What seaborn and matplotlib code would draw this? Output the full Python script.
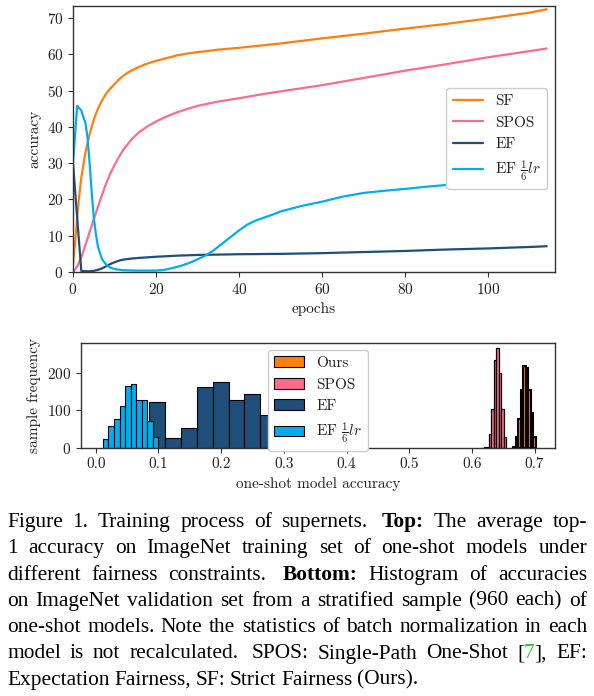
import re
import numpy as np
import matplotlib
matplotlib.use("Agg")
import matplotlib.pyplot as plt
from matplotlib.transforms import IdentityTransform
import seaborn as sns

# ---- top panel: average top-1 training accuracy per epoch ----
sf_epochs = [0, 0.5, 1, 1.5, 2, 3, 4, 5, 6, 7, 8, 9, 10, 11, 12, 13, 14, 16, 18, 20, 22, 25, 28, 30,
             35, 40, 45, 50, 60, 70, 80, 90, 100, 110, 114]
sf_acc = [2, 8, 15, 21, 26, 33, 38, 42, 45, 47.3, 49.2, 50.6, 51.8, 53, 54, 54.8, 55.5, 56.6, 57.5,
          58.2, 58.8, 59.7, 60.3, 60.6, 61.3, 61.8, 62.4, 63, 64.4, 65.7, 67.1, 68.4, 69.9, 71.5, 72.4]

spos_epochs = [0, 1, 2, 3, 4, 5, 6, 7, 8, 9, 10, 11, 12, 13, 14, 15, 16, 18, 20, 22, 25, 28, 30, 35,
               40, 45, 50, 60, 70, 80, 90, 100, 110, 114]
spos_acc = [0, 1.5, 4, 7.5, 11, 14.5, 18, 21.3, 24.5, 27.2, 29.5, 31.6, 33.5, 35, 36.4, 37.6, 38.6,
            40.2, 41.5, 42.6, 44, 45.1, 45.8, 47, 47.9, 48.9, 49.8, 51.5, 53.5, 55.5, 57.3, 59.2,
            60.9, 61.6]

ef_epochs = [0, 1, 2, 3, 4, 5, 6, 7, 8, 9, 10, 11, 12, 14, 16, 20, 25, 30, 40, 50, 60, 70, 80, 90,
             100, 110, 114]
ef_acc = [30, 15, 0.3, 0.2, 0.2, 0.3, 0.6, 1.0, 1.6, 2.2, 2.7, 3.1, 3.4, 3.7, 3.9, 4.2, 4.5, 4.7, 4.9,
          5.0, 5.2, 5.5, 5.8, 6.2, 6.5, 6.9, 7.1]

ef16_epochs = [0, 1, 2, 3, 3.5, 4, 4.5, 5, 5.5, 6, 7, 8, 9, 10, 12, 15, 20, 22, 24, 26, 28, 30, 32,
               34, 36, 38, 40, 42, 44, 46, 48, 50, 55, 60, 65, 70, 75, 80, 85, 90, 95, 100, 105,
               110, 114]
ef16_acc = [30, 45.8, 44.5, 41, 37, 30, 22, 15, 10.5, 7, 3.5, 2, 1.2, 0.8, 0.5, 0.4, 0.4, 0.6, 1.1,
            1.7, 2.5, 3.5, 4.6, 6.1, 7.9, 9.7, 11.5, 13.1, 14.2, 15.0, 15.8, 16.7, 18.2, 19.4, 20.8,
            21.8, 22.4, 22.9, 23.5, 24.0, 24.6, 25.2, 25.7, 26.2, 26.6]

# ---- bottom panel: histograms of one-shot model accuracy ----
ours_edges = [0.666, 0.670, 0.674, 0.678, 0.682, 0.686, 0.690, 0.694, 0.698, 0.702]
ours_counts = [3, 28, 77, 154, 216, 213, 154, 92, 28]

spos_edges = [0.615, 0.619, 0.623, 0.627, 0.631, 0.635, 0.639, 0.643, 0.647, 0.651, 0.655]
spos_counts = [1, 2, 3, 37, 103, 232, 265, 198, 103, 30]

ef_edges = [0.085, 0.110, 0.136, 0.161, 0.187, 0.212, 0.237, 0.262, 0.288, 0.313]
ef_counts = [121, 27, 54, 161, 174, 128, 142, 87, 22]

ef16_edges = [0.011, 0.020, 0.029, 0.038, 0.047, 0.056, 0.064, 0.073, 0.082, 0.091, 0.100]
ef16_counts = [24, 59, 78, 110, 164, 170, 126, 128, 71, 30]

line_labels = ["SF", "SPOS", "EF", r"EF $\frac{1}{6}lr$"]
hist_labels = ["Ours", "SPOS", "EF", r"EF $\frac{1}{6}lr$"]
colors = ["#ff7f0e", "#ff6b8b", "#1f4e79", "#00aeef"]

caption_lines = [
    "Figure 1. Training process of supernets.  *Top:* The average top-",
    "1 accuracy on ImageNet training set of one-shot models under",
    "different fairness constraints.  *Bottom:* Histogram of accuracies",
    "on ImageNet validation set from a stratified sample (960 each) of",
    "one-shot models. Note the statistics of batch normalization in each",
    "model is not recalculated.  SPOS: Single-Path One-Shot [{7}], EF:",
    "Expectation Fairness, SF: Strict Fairness (Ours).",
]

sns.set_style("ticks")
plt.rcParams.update({
    "font.family": ["cmr10"],
    "mathtext.fontset": "cm",
    "axes.formatter.use_mathtext": True,
    "axes.edgecolor": "#333333",
    "axes.linewidth": 1.0,
    "xtick.color": "#333333",
    "ytick.color": "#333333",
    "xtick.labelcolor": "#222222",
    "ytick.labelcolor": "#222222",
    "text.color": "#222222",
    "axes.labelcolor": "#222222",
})

fig = plt.figure(figsize=(5.94, 6.96), dpi=100)
fig.patch.set_facecolor("white")

# top: training curves
ax1 = fig.add_axes([0.1229, 0.6092, 0.8114, 0.3826])
series = [(sf_epochs, sf_acc), (spos_epochs, spos_acc), (ef_epochs, ef_acc), (ef16_epochs, ef16_acc)]
for (ep, acc), lab, col in zip(series, line_labels, colors):
    sns.lineplot(x=ep, y=acc, ax=ax1, color=col, linewidth=1.6, label=lab)
ax1.set_xlim(0, 116)
ax1.set_ylim(0, 73.4)
ax1.set_xticks([0, 20, 40, 60, 80, 100])
ax1.set_yticks([0, 10, 20, 30, 40, 50, 60, 70])
ax1.tick_params(labelsize=11)
ax1.set_xlabel("epochs", fontsize=11)
ax1.set_ylabel("accuracy", fontsize=11)
ax1.legend(loc="center right", fontsize=11, framealpha=1, edgecolor="#cccccc")

# bottom: accuracy histograms
ax2 = fig.add_axes([0.1364, 0.3563, 0.7979, 0.1513])
hists = [(ours_edges, ours_counts), (spos_edges, spos_counts), (ef_edges, ef_counts),
         (ef16_edges, ef16_counts)]
edge_widths = [1.5, 0.9, 0.8, 0.8]
for (edges, counts), lab, col, lw in zip(hists, hist_labels, colors, edge_widths):
    centers = (np.array(edges[:-1]) + np.array(edges[1:])) / 2
    sns.histplot(x=centers, weights=counts, bins=edges, ax=ax2, color=col, alpha=1,
                 edgecolor="black", linewidth=lw, label=lab)
ax2.set_xlim(-0.0235, 0.7325)
ax2.set_ylim(0, 279)
ax2.set_xticks([0.0, 0.1, 0.2, 0.3, 0.4, 0.5, 0.6, 0.7])
ax2.set_xticklabels(["0.0", "0.1", "0.2", "0.3", "0.4", "0.5", "0.6", "0.7"])
ax2.set_yticks([0, 100, 200])
ax2.tick_params(labelsize=11)
ax2.set_xlabel("one-shot model accuracy", fontsize=11)
ax2.set_ylabel("sample frequency", fontsize=11)
leg = ax2.legend(loc="upper center", fontsize=11, framealpha=1, edgecolor="#cccccc")
for patch in leg.get_patches():
    patch.set_linewidth(0.8)

# caption, justified between the margins
cap_size = 15.4
left_px, right_px = 7, 587
first_baseline = 527
line_step = 26.3
fig_h = 696
renderer = fig.canvas.get_renderer()


def word_segments(word):
    bold = word.startswith("*") and word.endswith("*")
    if bold:
        word = word.strip("*")
    segs = []
    for part in re.split(r"(\{[^}]*\})", word):
        if not part:
            continue
        if part.startswith("{"):
            segs.append((part[1:-1], bold, "#22cc22"))
        else:
            segs.append((part, bold, "black"))
    return segs


for i, line in enumerate(caption_lines):
    y = fig_h - (first_baseline + i * line_step)
    tokens = line.split(" ")
    words, gaps = [], []
    pending = 0
    for tok in tokens:
        if tok == "":
            pending += 1
            continue
        if words:
            gaps.append(1 + 0.5 * pending)
        pending = 0
        texts = []
        for s, b, c in word_segments(tok):
            t = fig.text(0, y, s, transform=IdentityTransform(), fontsize=cap_size,
                         fontweight="bold" if b else "normal", color=c,
                         family="Liberation Serif", va="baseline", ha="left")
            texts.append(t)
        words.append(texts)
    widths = [[t.get_window_extent(renderer).width for t in w] for w in words]
    total = sum(sum(w) for w in widths)
    if i < len(caption_lines) - 1:
        unit = (right_px - left_px - total) / sum(gaps)
    else:
        unit = 0.22 * cap_size * 100 / 72
    x = left_px
    for k, (texts, ws) in enumerate(zip(words, widths)):
        for t, w in zip(texts, ws):
            t.set_x(x)
            x += w
        if k < len(gaps):
            x += unit * gaps[k]

fig.savefig("out.png", dpi=100)
